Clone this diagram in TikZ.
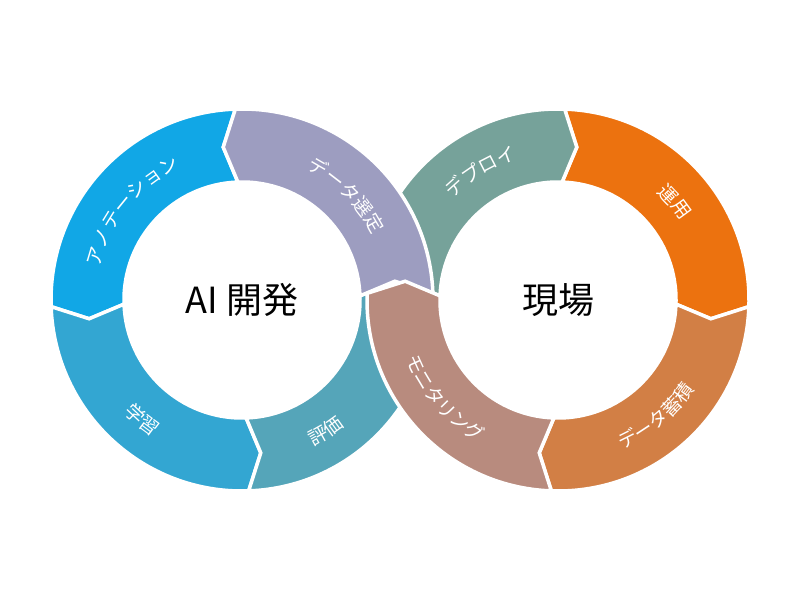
\documentclass[tikz,border=0pt]{standalone}
\usepackage{fontspec}
\newfontfamily\cjk{Noto Sans CJK JP}
\usetikzlibrary{decorations.text}
\definecolor{cAnno}{HTML}{11A7E6}
\definecolor{cSel}{HTML}{9D9DC0}
\definecolor{cLearn}{HTML}{33A6D2}
\definecolor{cEval}{HTML}{55A5B9}
\definecolor{cDep}{HTML}{76A29A}
\definecolor{cOps}{HTML}{EC720F}
\definecolor{cAcc}{HTML}{D27F45}
\definecolor{cMon}{HTML}{B88B7E}
\tikzset{segfill/.style={fill=#1, draw=white, line width=3.5pt, line join=miter}}
% \seg{color}{start}{end}{delta}
\newcommand{\seg}[4]{%
  \path[segfill=#1] (#2:191) arc[start angle=#2, end angle=#3, radius=191]
    -- ({#3+#4}:154) -- (#3:118) arc[start angle=#3, end angle=#2, radius=118]
    -- ({#2+#4}:154) -- cycle;}
% \lab{start}{end}{radius}{text}
\newcommand{\lab}[4]{%
  \path[decorate, decoration={text along path, text align=center,
     text={|\cjk\fontsize{19}{19}\selectfont\color{white}|#4}}]
     (#1:#3) arc[start angle=#1, end angle=#2, radius=#3];}
\begin{document}
\begin{tikzpicture}[x=1pt,y=1pt]
\useasboundingbox (0,0) rectangle (800,600);
\begin{scope}[shift={(242,300)}]
  \seg{cAnno}{92}{182}{5}
  \seg{cLearn}{182}{272}{5}
  \seg{cEval}{272}{362}{5}
\end{scope}
\begin{scope}[shift={(558,300)}]
  \seg{cOps}{88}{-2}{-5}
  \seg{cAcc}{-2}{-92}{-5}
  \seg{cDep}{178}{88}{-5}
\end{scope}
\begin{scope}[shift={(242,300)}]
  \seg{cSel}{2}{92}{5}
\end{scope}
\begin{scope}[shift={(558,300)}]
  \seg{cMon}{-92}{-182}{-5}
\end{scope}
\begin{scope}[shift={(242,300)}]
  \lab{178}{104}{146}{アノテーション}
  \lab{70}{20}{146}{データ選定}
  \lab{205}{255}{163}{学習}
  \lab{280}{325}{163}{評価}
\end{scope}
\begin{scope}[shift={(558,300)}]
  \lab{150}{92}{146}{デプロイ}
  \lab{65}{15}{146}{運用}
  \lab{280}{340}{163}{データ蓄積}
  \lab{190}{252}{163}{モニタリング}
\end{scope}
\node[font=\cjk\fontsize{36}{36}\selectfont] (ai) at (242,300) {AI 開発};
\node[font=\cjk\fontsize{36}{36}\selectfont] (gen) at (558,300) {現場};
\end{tikzpicture}
\end{document}
